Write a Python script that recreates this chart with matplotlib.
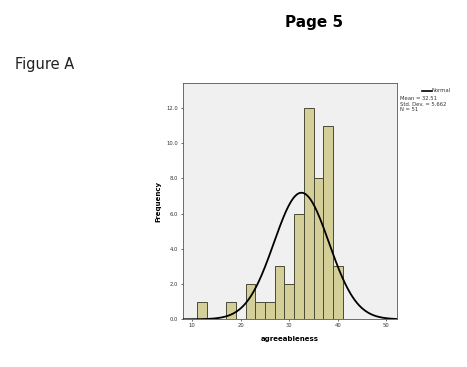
import numpy as np
import matplotlib
matplotlib.use("Agg")
import matplotlib.pyplot as plt

# 直方圖資料（bin 寬 2）
bin_edges = [11, 13, 15, 17, 19, 21, 23, 25, 27, 29, 31, 33, 35, 37, 39, 41]
counts = [1, 0, 0, 1, 0, 2, 1, 1, 3, 2, 6, 12, 8, 11, 3]
mean = 32.51
std = 5.662
n = 51
y_ticks = [0, 2, 4, 6, 8, 10, 12]
x_ticks = [10, 20, 30, 40, 50]

fig = plt.figure(figsize=(4.67, 3.67), dpi=100)
fig.patch.set_facecolor("white")

fig.text(314 / 467, 1 - 22 / 367, "Page 5", ha="center", va="center",
         fontsize=11, fontweight="bold", family="DejaVu Sans")
fig.text(15 / 467, 1 - 65 / 367, "Figure A", ha="left", va="center",
         fontsize=10.5, color="#222222", family="DejaVu Sans")

ax = fig.add_axes([0.391, 0.130, 0.460, 0.643])
ax.set_facecolor("#F0F0F0")

lefts = np.array(bin_edges[:-1])
widths = np.diff(bin_edges)
for l, w, c in zip(lefts, widths, counts):
    if c > 0:
        ax.bar(l, c, width=w, align="edge", color="#D4CF98",
               edgecolor="#4A4A36", linewidth=0.7, zorder=2)

bw = 2
xs = np.linspace(8, 52.3, 400)
ys = n * bw / (std * np.sqrt(2 * np.pi)) * np.exp(-0.5 * ((xs - mean) / std) ** 2)
ax.plot(xs, ys, color="black", linewidth=1.3, zorder=3)

ax.set_xlim(8.0, 52.3)
ax.set_ylim(0, 13.4)
ax.set_xticks(x_ticks)
ax.set_xticklabels([str(t) for t in x_ticks])
ax.set_yticks(y_ticks)
ax.set_yticklabels([f"{t:.1f}" for t in y_ticks])
ax.tick_params(labelsize=3.8, length=1.5, width=0.5, pad=1.5, colors="#333333")
for s in ax.spines.values():
    s.set_color("#555555")
    s.set_linewidth(0.6)

ax.set_xlabel("agreeableness", fontsize=5, fontweight="bold", labelpad=5.5)
ax.set_ylabel("Frequency", fontsize=5, fontweight="bold", labelpad=4)

# 圖例與統計
fig.add_artist(plt.Line2D([421.5 / 467, 431.5 / 467], [1 - 90.7 / 367] * 2,
                          color="black", linewidth=1.2))
fig.text(432 / 467, 1 - 90.7 / 367, "Normal", fontsize=3.8, va="center",
         color="#333333")
fig.text(400.5 / 467, 1 - 96.5 / 367,
         f"Mean = {mean:.2f}\nStd. Dev. = {std:.3f}\nN = {n}",
         fontsize=3.8, va="top", ha="left", color="#333333", linespacing=1.05)

fig.savefig("out.png", dpi=100)
